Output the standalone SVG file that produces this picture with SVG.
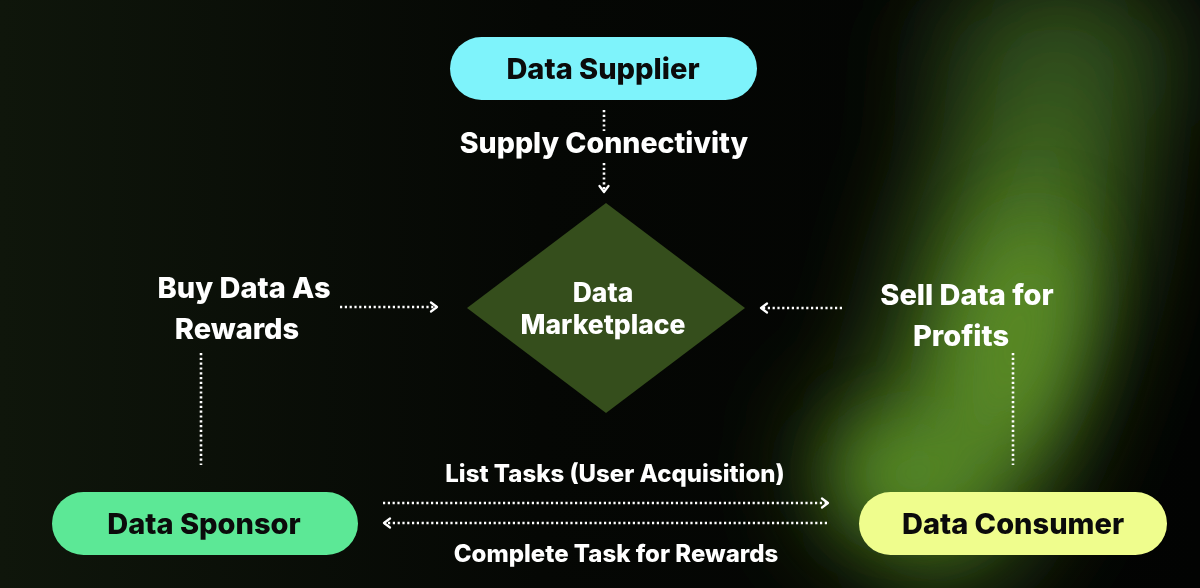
<svg xmlns="http://www.w3.org/2000/svg" width="1200" height="588" viewBox="0 0 1200 588">
<defs>
  <linearGradient id="bgL" x1="0" y1="0" x2="1" y2="0">
    <stop offset="0" stop-color="#0f160b"/>
    <stop offset="0.45" stop-color="#050704"/>
    <stop offset="1" stop-color="#020302"/>
  </linearGradient>
  <filter id="blur" x="-50%" y="-50%" width="200%" height="200%">
    <feGaussianBlur stdDeviation="55"/>
  </filter>
  <filter id="blur2" x="-50%" y="-50%" width="200%" height="200%">
    <feGaussianBlur stdDeviation="35"/>
  </filter>
  <marker id="chev" viewBox="0 0 10 12" refX="8" refY="6" markerWidth="10" markerHeight="12" markerUnits="userSpaceOnUse" orient="auto">
    <path d="M2,1.5 L8,6 L2,10.5" fill="none" stroke="#ffffff" stroke-width="2.2" stroke-linecap="round" stroke-linejoin="round"/>
  </marker>
  <style>
    .lbl { font-family: Inter, "Liberation Sans", sans-serif; font-weight: 800; fill: #ffffff; text-anchor: middle; }
    .nt { font-family: Inter, "Liberation Sans", sans-serif; font-weight: 800; fill: #0b0b0b; text-anchor: middle; font-size: 29px; }
    .dot { fill: none; stroke: #ffffff; stroke-width: 2.6; stroke-dasharray: 2.2 2.6; }
  </style>
</defs>

<!-- background -->
<rect x="0" y="0" width="1200" height="588" fill="url(#bgL)"/>
<g filter="url(#blur)">
  <ellipse cx="1010" cy="290" rx="95" ry="310" transform="rotate(15 1010 290)" fill="#4a7420"/>
  <ellipse cx="1060" cy="60" rx="120" ry="90" fill="#33511a"/>
  <ellipse cx="930" cy="470" rx="110" ry="80" fill="#4e7c22"/>
</g>
<g filter="url(#blur2)">
  <ellipse cx="1015" cy="340" rx="55" ry="120" transform="rotate(15 1015 340)" fill="#5a8a28"/>
  <ellipse cx="910" cy="475" rx="65" ry="45" fill="#568a26"/>
</g>

<!-- connectors -->
<g id="connectors">
  <line class="dot" x1="604" y1="110" x2="604" y2="131"/>
  <line class="dot" x1="604" y1="163" x2="604" y2="192" marker-end="url(#chev)"/>
  <line class="dot" x1="340" y1="307" x2="437" y2="307" marker-end="url(#chev)"/>
  <line class="dot" x1="842" y1="308" x2="761" y2="308" marker-end="url(#chev)"/>
  <line class="dot" x1="201" y1="353" x2="201" y2="465"/>
  <line class="dot" x1="1013" y1="353" x2="1013" y2="465"/>
  <line class="dot" x1="383" y1="503" x2="828" y2="503" marker-end="url(#chev)"/>
  <line class="dot" x1="827" y1="523" x2="384" y2="523" marker-end="url(#chev)"/>
</g>

<!-- labels -->
<g id="labels">
  <text class="lbl" x="604" y="153" font-size="28.5">Supply Connectivity</text>
  <text class="lbl" x="244" y="298" font-size="29">Buy Data As</text>
  <text class="lbl" x="237" y="339" font-size="29">Rewards</text>
  <text class="lbl" x="967" y="305" font-size="29">Sell Data for</text>
  <text class="lbl" x="961" y="346" font-size="29">Profits</text>
  <text class="lbl" x="615" y="482" font-size="24">List Tasks (User Acquisition)</text>
  <text class="lbl" x="616" y="562" font-size="24">Complete Task for Rewards</text>
</g>

<!-- nodes -->
<g id="data-supplier">
  <rect x="450" y="37" width="307" height="63" rx="31.5" fill="#7ef3fb"/>
  <text class="nt" x="603" y="79">Data Supplier</text>
</g>
<g id="data-marketplace">
  <polygon points="606,203 745,308 606,413 467,308" fill="#354e1c"/>
  <text class="lbl" x="603" y="302" font-size="26.5">Data</text>
  <text class="lbl" x="603" y="334" font-size="26.5">Marketplace</text>
</g>
<g id="data-sponsor">
  <rect x="52" y="492" width="306" height="63" rx="31.5" fill="#5ce896"/>
  <text class="nt" x="204" y="534">Data Sponsor</text>
</g>
<g id="data-consumer">
  <rect x="859" y="492" width="308" height="63" rx="31.5" fill="#effd8d"/>
  <text class="nt" x="1013" y="534">Data Consumer</text>
</g>
</svg>
